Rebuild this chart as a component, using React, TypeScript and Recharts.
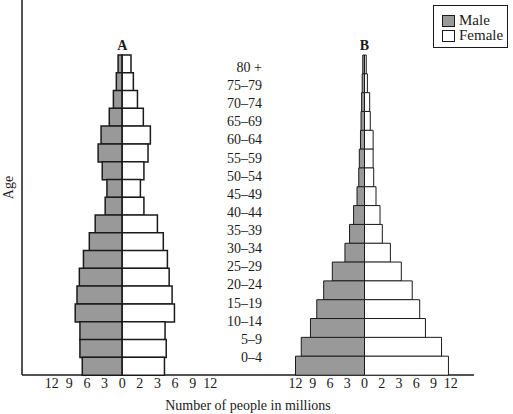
import React from "react";
import {
  BarChart,
  Bar,
  XAxis,
  YAxis,
  ComposedChart,
  Legend,
  ReferenceLine,
} from "recharts";

// ---- data ----
const ageLabels = [
  "80 +", "75–79", "70–74", "65–69", "60–64", "55–59", "50–54", "45–49", "40–44",
  "35–39", "30–34", "25–29", "20–24", "15–19", "10–14", "5–9", "0–4",
];

// axis ticks (as printed under each pyramid)
const tickValues = [-12, -9, -6, -3, 0, 3, 6, 9, 12, 15];
const tickLabels = ["12", "9", "6", "3", "0", "2", "3", "6", "9", "12"];

// Pyramid A (18 bars drawn, top to bottom), values in axis units
const maleA = [0.7, 1.0, 1.5, 2.2, 3.6, 4.1, 3.4, 2.6, 2.9, 4.6, 5.6, 6.6, 7.3, 7.7, 8.0, 7.2, 7.2, 6.8];
const femaleA = [1.5, 1.9, 2.6, 3.6, 4.8, 4.4, 3.7, 3.1, 3.7, 6.0, 7.0, 7.7, 8.0, 8.5, 8.9, 7.3, 7.5, 7.2];

// Pyramid B (17 bars, top to bottom)
const maleB = [0.3, 0.4, 0.5, 0.6, 0.7, 0.9, 1.0, 1.3, 1.9, 2.6, 3.4, 5.6, 7.1, 8.3, 9.4, 11.0, 12.0];
const femaleB = [0.3, 0.5, 0.9, 1.0, 1.5, 1.5, 1.6, 2.0, 2.7, 3.1, 4.5, 6.4, 8.3, 9.6, 10.6, 13.4, 14.6];

const seriesNames = ["Male", "Female"];
const MALE_FILL = "#999999";
const FEMALE_FILL = "#ffffff";
const INK = "#1a1a1a";
const FONT = "'Liberation Serif', 'Times New Roman', serif";

const dataA = maleA.map((m, i) => ({ row: String(i + 1), male: -m, female: femaleA[i] }));
const dataB = maleB.map((m, i) => ({ row: ageLabels[i], male: -m, female: femaleB[i] }));
const dataLabels = ageLabels.map((a) => ({ age: a, v: 0 }));

const tickFmt = (v: number) => {
  const i = tickValues.indexOf(v);
  return i >= 0 ? tickLabels[i] : "";
};

const tickStyle = { fontSize: 14, fill: INK, fontFamily: FONT };

const LegendBox = () => (
  <div
    style={{
      border: `1px solid ${INK}`,
      background: "#fff",
      width: 75,
      boxSizing: "border-box",
      padding: "7px 0 4px 8px",
      fontFamily: FONT,
      fontSize: 15,
      color: INK,
    }}
  >
    {seriesNames.map((n, i) => (
      <div key={n} style={{ display: "flex", alignItems: "center", height: 15, lineHeight: "15px" }}>
        <span
          style={{
            display: "inline-block",
            width: 13,
            height: 12,
            boxSizing: "border-box",
            border: `1px solid ${INK}`,
            background: i === 0 ? MALE_FILL : FEMALE_FILL,
            marginRight: 4,
          }}
        />
        <span>{n}</span>
      </div>
    ))}
  </div>
);

function Pyramid({
  data,
  left,
  width,
  domain,
  title,
  strokeWidth,
}: {
  data: any[];
  left: number;
  width: number;
  domain: [number, number];
  title: string;
  strokeWidth: number;
}) {
  return (
    <div style={{ position: "absolute", left, top: 30 }}>
      <BarChart
        width={width}
        height={375}
        data={data}
        layout="vertical"
        stackOffset="sign"
        barCategoryGap={0}
        barGap={0}
        margin={{ top: 25, right: 0, bottom: 0, left: 0 }}
      >
        <XAxis
          type="number"
          domain={domain}
          ticks={tickValues}
          tickFormatter={tickFmt}
          interval={0}
          axisLine={false}
          tickLine={false}
          tickSize={0}
          tickMargin={3}
          height={30}
          tick={tickStyle}
        />
        <YAxis type="category" dataKey="row" hide />
        <Bar dataKey="male" stackId="s" fill={MALE_FILL} stroke={INK} strokeWidth={strokeWidth} isAnimationActive={false} />
        <Bar dataKey="female" stackId="s" fill={FEMALE_FILL} stroke={INK} strokeWidth={strokeWidth} isAnimationActive={false} />
        <ReferenceLine
          x={0}
          stroke="none"
          label={{ value: title, position: "top", offset: 5, fill: INK, fontSize: 14, fontWeight: "bold", fontFamily: FONT }}
        />
      </BarChart>
    </div>
  );
}

export default function App() {
  return (
    <div style={{ position: "absolute", left: 0, top: 0, width: 513, height: 414, background: "#fff" }}>
      <div style={{ position: "absolute", left: 0, top: 0 }}>
        <ComposedChart
          width={513}
          height={414}
          data={[{ x: 0, y: 0 }]}
          margin={{ top: 0, right: 39, bottom: 0, left: 0 }}
        >
          <XAxis
            type="number"
            dataKey="x"
            domain={[0, 1]}
            tick={false}
            tickLine={false}
            axisLine={{ stroke: INK, strokeWidth: 1.5 }}
            height={39}
            label={{ value: "Number of people in millions", position: "insideBottom", offset: 4, fill: INK, fontSize: 14, fontFamily: FONT }}
          />
          <YAxis
            type="number"
            dataKey="y"
            domain={[0, 1]}
            tick={false}
            tickLine={false}
            width={22}
            axisLine={{ stroke: INK, strokeWidth: 1.5 }}
            label={{ value: "Age", angle: -90, position: "center", dx: -3, fill: INK, fontSize: 14, fontFamily: FONT }}
          />
          <Legend
            layout="horizontal"
            verticalAlign="middle"
            align="center"
            content={() => <LegendBox />}
            wrapperStyle={{ left: 433, top: 5, width: 75, height: 43 }}
          />
        </ComposedChart>
      </div>

      <Pyramid data={dataA} left={40} width={182} domain={[-14, 17]} title="A" strokeWidth={1.5} />
      <Pyramid data={dataB} left={283.5} width={178.25} domain={[-14, 17]} title="B" strokeWidth={1} />

      <div style={{ position: "absolute", left: 200, top: 58 }}>
        <BarChart
          width={80}
          height={308}
          data={dataLabels}
          layout="vertical"
          barCategoryGap={0}
          margin={{ top: 0, right: 0, bottom: 0, left: 0 }}
        >
          <XAxis type="number" domain={[0, 1]} hide />
          <YAxis
            type="category"
            dataKey="age"
            width={62}
            axisLine={false}
            tickLine={false}
            tickSize={0}
            tickMargin={0}
            interval={0}
            tick={tickStyle}
          />
          <Bar dataKey="v" fill="none" isAnimationActive={false} />
        </BarChart>
      </div>
    </div>
  );
}
